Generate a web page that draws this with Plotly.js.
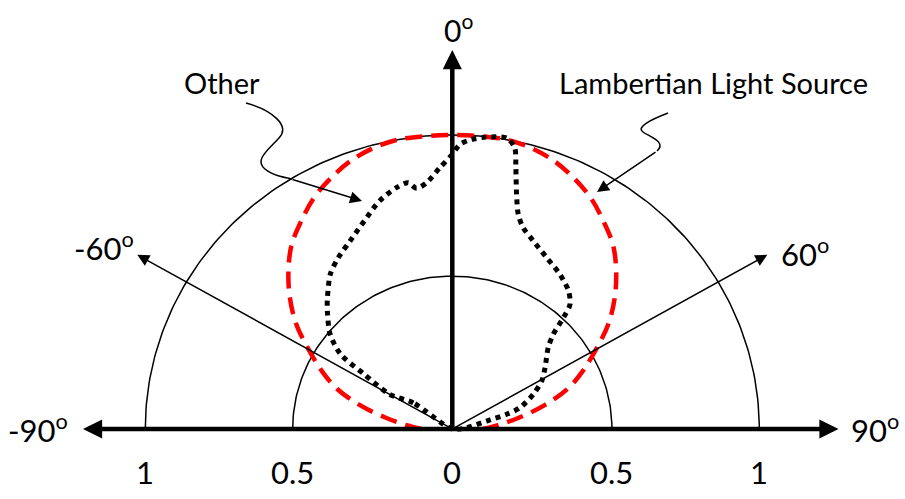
<!DOCTYPE html>
<html>
<head>
<meta charset="utf-8">
<script src="https://cdn.plot.ly/plotly-3.0.1.min.js"></script>
<style>html,body{margin:0;padding:0;background:#fff;}#chart{width:905px;height:499px;}</style>
</head>
<body>
<div id="chart"></div>
<script>
// ---- data (angle from vertical in degrees, relative intensity) ----
const lambertAngles = [-90,-85,-80,-75,-70,-65,-60,-55,-50,-45,-40,-35,-30,-25,-20,-15,-10,-5,0,5,10,15,20,25,30,35,40,45,50,55,60,65,70,75,80,85,90];
const lambertValues = [0.1,0.15,0.22,0.31,0.4,0.47,0.54,0.62,0.69,0.755,0.815,0.86,0.905,0.94,0.97,0.99,1.0,1.0,1.0,1.0,1.0,0.99,0.97,0.94,0.905,0.86,0.815,0.755,0.69,0.62,0.54,0.47,0.4,0.31,0.22,0.15,0.1];
const otherAngles = [-60,-55,-60,-57,-55,-51,-46,-43,-37,-32.5,-27.5,-22,-17,-12.5,-9.7,-8.1,-5.7,-2.6,0,1.5,3.7,6.4,10.2,12,13.1,14.7,16.4,18.6,22.4,27.8,33.7,38.9,42.1,43.7,45.6,48.5,55.4,60.7,65.9,71.8,74.2,76.4,84.6,85];
const otherValues = [0,0.155,0.235,0.344,0.445,0.512,0.565,0.597,0.66,0.691,0.721,0.764,0.811,0.841,0.85,0.827,0.842,0.89,0.934,0.969,0.987,0.999,1.005,0.978,0.913,0.825,0.761,0.723,0.692,0.659,0.632,0.603,0.572,0.524,0.46,0.417,0.367,0.334,0.289,0.232,0.184,0.115,0.047,0];
const gridRadii = [0.52, 1];
const rayAngles = [-60, 60];
const tickValues = [-1, -0.52, 0, 0.52, 1];
const tickLabels = ['1', '0.5', '0', '0.5', '1'];
const seriesNames = ['Lambertian Light Source', 'Other'];

// ---- helpers ----
const rad = d => d * Math.PI / 180;
const toX = (a, r) => a.map((d, i) => r[i] * Math.sin(rad(d)));
const toY = (a, r) => a.map((d, i) => r[i] * Math.cos(rad(d)));
// pixel -> data for decorations (plot area = full figure)
const CX = 452.3, CY = 429, SX = 307, SY = 294;
const px = p => (p - CX) / SX;
const py = p => (CY - p) / SY;

const traces = [];
// grid arcs
gridRadii.forEach(R => {
  const a = [], r = [];
  for (let d = -90; d <= 90; d += 1) { a.push(d); r.push(R); }
  traces.push({x: toX(a, r), y: toY(a, r), mode: 'lines', line: {color: '#000', width: 1.5}, hoverinfo: 'skip', showlegend: false});
});
traces.push({x: toX(lambertAngles, lambertValues), y: toY(lambertAngles, lambertValues), mode: 'lines', name: seriesNames[0],
  line: {color: '#ff0000', width: 4.5, dash: '17px,9px', shape: 'spline', smoothing: 1}, showlegend: false});
traces.push({x: toX(otherAngles, otherValues), y: toY(otherAngles, otherValues), mode: 'lines', name: seriesNames[1],
  line: {color: '#000', width: 5, dash: '5px,5px', shape: 'spline', smoothing: 0.8}, showlegend: false});

const annotations = [];
const font = {family: 'Lato, "Open Sans", sans-serif', color: '#000'};
// rays at +-60
rayAngles.forEach(d => {
  annotations.push({x: 1.185 * Math.sin(rad(d)), y: 1.185 * Math.cos(rad(d)), ax: 0, ay: 0, axref: 'x', ayref: 'y', xref: 'x', yref: 'y',
    text: '', showarrow: true, arrowhead: 2, arrowwidth: 1.5, arrowsize: 1.6, arrowcolor: '#000', standoff: 0});
});
// thick axes
annotations.push({x: px(83), y: 0, ax: px(840), ay: 0, axref: 'x', ayref: 'y', xref: 'x', yref: 'y', text: '', showarrow: true,
  arrowhead: 2, startarrowhead: 2, arrowside: 'end+start', arrowwidth: 4.5, arrowsize: 0.85, startarrowsize: 0.85, arrowcolor: '#000', standoff: 0, startstandoff: 0});
annotations.push({x: 0, y: py(50), ax: 0, ay: 0, axref: 'x', ayref: 'y', xref: 'x', yref: 'y', text: '', showarrow: true,
  arrowhead: 2, arrowwidth: 4.5, arrowsize: 0.85, arrowcolor: '#000', standoff: 0});
// callout arrow segments
annotations.push({x: px(362), y: py(201), ax: px(291), ay: py(179), axref: 'x', ayref: 'y', xref: 'x', yref: 'y', text: '', showarrow: true,
  arrowhead: 2, arrowwidth: 1.5, arrowsize: 1.6, arrowcolor: '#000', standoff: 0});
annotations.push({x: px(597), y: py(192), ax: px(657), ay: py(151), axref: 'x', ayref: 'y', xref: 'x', yref: 'y', text: '', showarrow: true,
  arrowhead: 2, arrowwidth: 1.5, arrowsize: 1.6, arrowcolor: '#000', standoff: 0});
// tick labels
tickValues.forEach((v, i) => {
  annotations.push({x: v, y: py(472), xref: 'x', yref: 'y', text: tickLabels[i], showarrow: false, font: Object.assign({size: 31}, font)});
});
// angle labels
const lab = (x, y, t, s) => annotations.push({x: px(x), y: py(y), xref: 'x', yref: 'y', text: t, showarrow: false, font: Object.assign({size: s}, font)});
lab(458, 28, '0<sup>o</sup>', 30);
lab(104, 246, '-60<sup>o</sup>', 31);
lab(805, 252, '60<sup>o</sup>', 31);
lab(38, 428, '-90<sup>o</sup>', 31);
lab(875, 428, '90<sup>o</sup>', 31);
lab(222, 82, seriesNames[1], 29);
lab(713, 82, seriesNames[0], 29);

const P = (x, y) => px(x).toFixed(4) + ',' + py(y).toFixed(4);
const shapes = [
  {type: 'path', xref: 'x', yref: 'y', line: {color: '#000', width: 1.5},
   path: 'M' + P(246,103) + ' C' + P(272,110) + ' ' + P(291,126) + ' ' + P(279,138) + ' C' + P(268,150) + ' ' + P(254,160) + ' ' + P(265,169) + ' C' + P(272,175) + ' ' + P(282,177) + ' ' + P(292,179)},
  {type: 'path', xref: 'x', yref: 'y', line: {color: '#000', width: 1.5},
   path: 'M' + P(668,113) + ' C' + P(650,120) + ' ' + P(636,127) + ' ' + P(643,132) + ' C' + P(650,137) + ' ' + P(667,142) + ' ' + P(657,151)}
];

const layout = {
  width: 905, height: 499, margin: {l: 0, r: 0, t: 0, b: 0},
  paper_bgcolor: '#fff', plot_bgcolor: '#fff', showlegend: false,
  xaxis: {range: [px(0), px(905)], visible: false, fixedrange: true},
  yaxis: {range: [py(499), py(0)], visible: false, fixedrange: true},
  annotations: annotations, shapes: shapes
};
Plotly.newPlot('chart', traces, layout, {staticPlot: true});
</script>
</body>
</html>
